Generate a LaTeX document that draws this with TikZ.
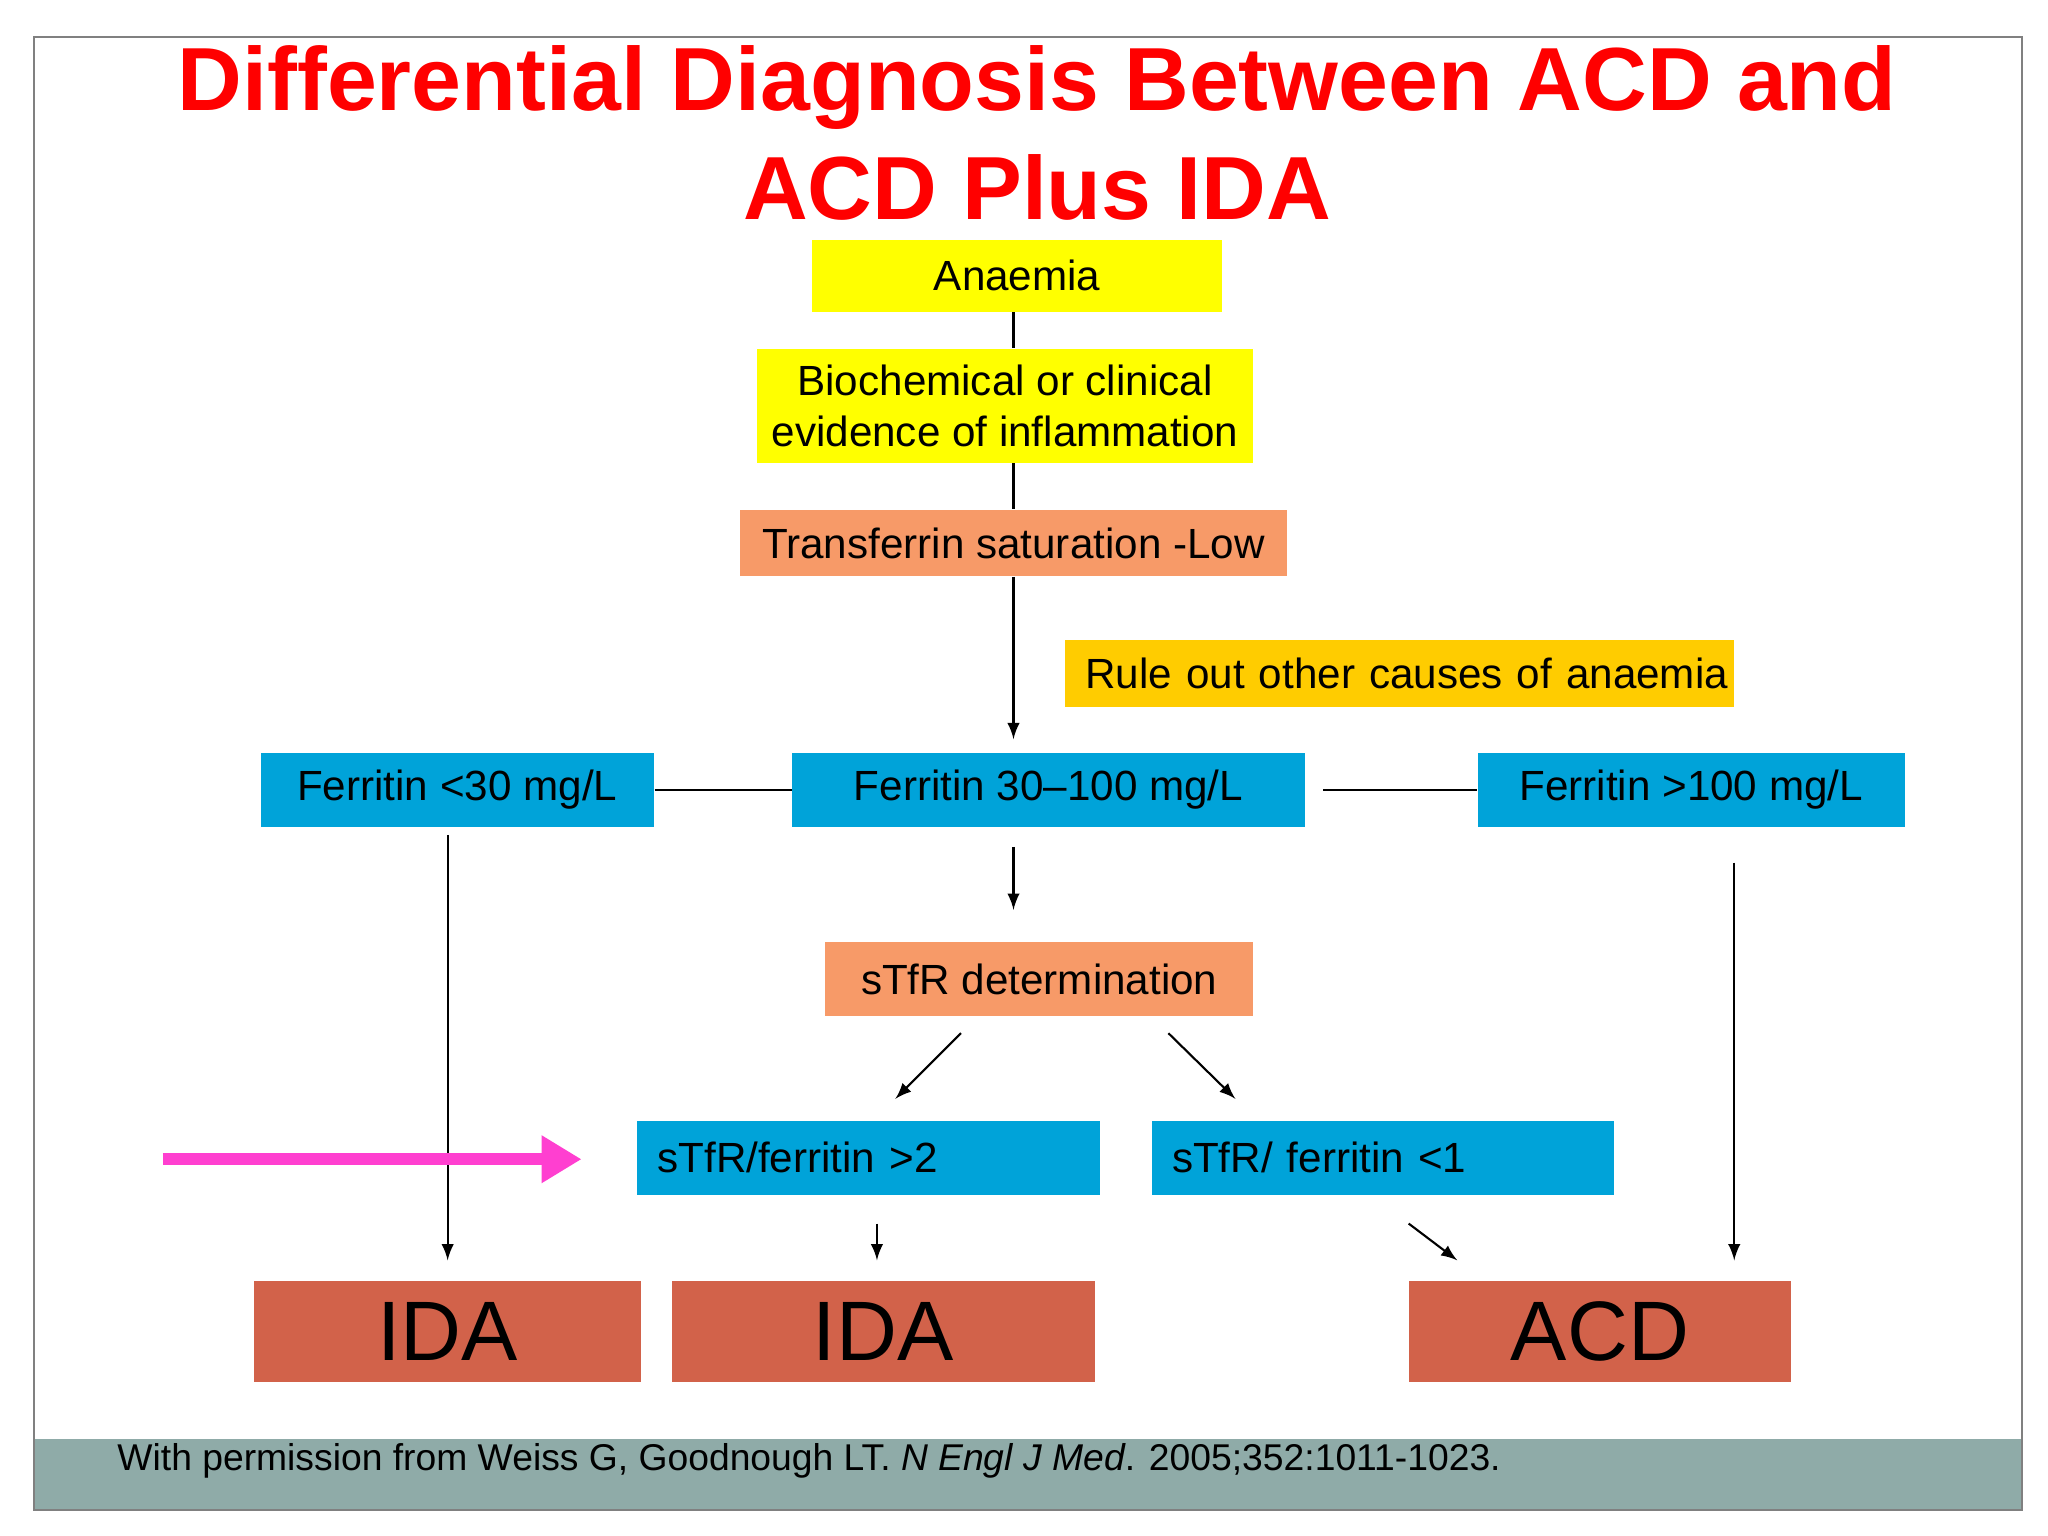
\documentclass[tikz,border=0pt]{standalone}
\usepackage{fontspec}
\setmainfont{Liberation Sans}
\usepackage{xcolor}
\usetikzlibrary{arrows.meta}
\definecolor{yel}{HTML}{FFFF00}
\definecolor{salm}{HTML}{F79A68}
\definecolor{gold}{HTML}{FFCC00}
\definecolor{cyanbox}{HTML}{00A3D9}
\definecolor{brick}{HTML}{D2624A}
\definecolor{band}{HTML}{8FABA8}
\definecolor{pinkarr}{HTML}{FF3FD0}
\tikzset{
  box/.style={anchor=north west, inner sep=0pt, font=\fontsize{12}{14.5}\selectfont, align=center},
  lbox/.style={box, align=left, inner xsep=0.2cm},
  res/.style={box, fill=brick, font=\fontsize{24}{28}\selectfont},
  con/.style={black, line width=0.6pt},
  arr/.style={con, ->, >=latex}
}
\begin{document}
\begin{tikzpicture}[x=0.013128cm, y=-0.013128cm]
            \useasboundingbox (0,0) rectangle (1560,1170);
            \fill [white] (0,0) rectangle (1560,1170);
            \fill [band] (26,1096) rectangle (1540,1150);
            \draw [gray, line width=0.5pt] (26,28) rectangle (1540,1150);
            \node [text=red, font=\fontsize{25.5}{31}\bfseries, align=center] (title) at (790,101) {Differential Diagnosis Between ACD and\\ACD Plus IDA};
            \node [box, fill=yel, minimum width=4.1cm, minimum height=0.72cm] (anaemia) at (618,182) {Anaemia};
            \node [box, fill=yel, minimum width=4.96cm, minimum height=1.14cm] (inflam) at (576,265) {Biochemical or clinical\\evidence of inflammation};
            \node [box, fill=salm, minimum width=5.47cm, minimum height=0.66cm] (tsat) at (563,388) {Transferrin saturation -Low};
            \node [lbox, fill=gold, text width=6.28cm, minimum height=0.67cm] (rule) at (811,487) {\mbox{Rule out other causes of anaemia}};
            \node [box, fill=cyanbox, minimum width=3.93cm, minimum height=0.74cm] (ferlow) at (198,573) {Ferritin <30 mg/L};
            \node [box, fill=cyanbox, minimum width=5.12cm, minimum height=0.74cm] (fermid) at (603,573) {Ferritin 30--100 mg/L};
            \node [box, fill=cyanbox, minimum width=4.27cm, minimum height=0.74cm] (ferhigh) at (1125,573) {Ferritin >100 mg/L};
            \node [box, fill=salm, minimum width=4.28cm, minimum height=0.74cm] (stfr) at (628,717) {sTfR determination};
            \node [lbox, fill=cyanbox, text width=4.22cm, minimum height=0.74cm] (ratiohi) at (485,853) {sTfR/ferritin >2};
            \node [lbox, fill=cyanbox, text width=4.22cm, minimum height=0.74cm] (ratiolo) at (877,853) {sTfR/ ferritin <1};
            \node [res, minimum width=3.87cm, minimum height=1.01cm] (ida1) at (193,975) {IDA};
            \node [res, minimum width=4.23cm, minimum height=1.01cm] (ida2) at (511,975) {IDA};
            \node [res, minimum width=3.81cm, minimum height=1.01cm] (acd) at (1073,975) {ACD};
            \node [anchor=west, font=\fontsize{10.6}{14}\selectfont] (ref) at (80,1113) {With permission from Weiss G, Goodnough LT. \textit{N Engl J Med}. 2005;352:1011-1023.};
            % connectors
            \coordinate (a1) at (772,563);
            \coordinate (b0) at (772,645); \coordinate (b1) at (772,693);
            \coordinate (c0) at (732,787); \coordinate (c1) at (682,837);
            \coordinate (d0) at (890,787); \coordinate (d1) at (941,837);
            \coordinate (e0) at (668,932); \coordinate (e1) at (668,960);
            \coordinate (f0) at (1073,932); \coordinate (f1) at (1110,960);
            \coordinate (g0) at (341,636); \coordinate (g1) at (341,960);
            \coordinate (h0) at (1321,657); \coordinate (h1) at (1321,960);
            \coordinate (p0) at (124,883); \coordinate (p1) at (443,883);
            \coordinate (m0) at (1008,601);
            \draw [con] (anaemia.south -| a1) -- (inflam.north -| a1);
            \draw [con] (inflam.south -| a1) -- (tsat.north -| a1);
            \draw [arr] (tsat.south -| a1) -- (a1);
            \draw [con] (ferlow.east) -- (fermid.west);
            \draw [con] (m0 |- ferhigh.west) -- (ferhigh.west);
            \draw [arr] (b0) -- (b1);
            \draw [arr] (c0) -- (c1);
            \draw [arr] (d0) -- (d1);
            \draw [arr] (e0) -- (e1);
            \draw [arr] (f0) -- (f1);
            \draw [arr] (g0) -- (g1);
            \draw [arr] (h0) -- (h1);
            \draw [pinkarr, line width=3.5pt, -{Triangle[length=0.4cm, width=0.45cm]}] (p0) -- (p1);
        \end{tikzpicture}
\end{document}
